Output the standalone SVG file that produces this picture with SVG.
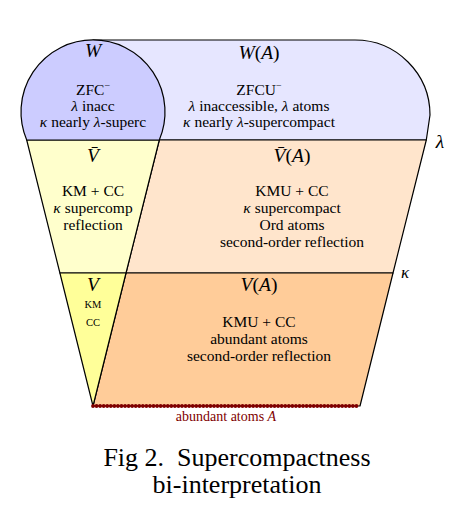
<svg xmlns="http://www.w3.org/2000/svg" width="474" height="526" viewBox="0 0 474 526">
<style>
.r{stroke:#000;stroke-width:1.2;stroke-linejoin:round}
.t{font-family:"Liberation Serif",serif;font-size:15.5px;text-anchor:middle;fill:#000}
.h{font-family:"Liberation Serif",serif;font-size:19.5px;text-anchor:middle;fill:#000}
.i{font-style:italic}
.sc{font-family:"Liberation Serif",serif;font-size:10.5px;text-anchor:middle;fill:#000}
.cap{font-family:"Liberation Serif",serif;font-size:26px;text-anchor:middle;fill:#000}
.lab{font-family:"Liberation Serif",serif;font-size:14px;text-anchor:middle;fill:#800000}
</style>
<rect width="474" height="526" fill="#fff"/>
<g id="WA">
<path class="r" d="M93,40 H355 A75,75 0 0 1 430,115 L426.3,140 H93 Z" fill="#e6e6ff"/>
<text class="h" x="259" y="59"><tspan class="i">W</tspan>(<tspan class="i">A</tspan>)</text>
<text class="t" x="259" y="95">ZFCU<tspan dy="-6" font-size="10">−</tspan></text>
<text class="t" x="259" y="111"><tspan class="i">λ</tspan> inaccessible, <tspan class="i">λ</tspan> atoms</text>
<text class="t" x="259" y="127"><tspan class="i">κ</tspan> nearly <tspan class="i">λ</tspan>-supercompact</text>
</g>
<g id="VbarA">
<polygon class="r" points="159.3,140 426.3,140 393,273 126,273" fill="#ffe5cc"/>
<text class="h" x="292" y="162"><tspan class="i">V̄</tspan>(<tspan class="i">A</tspan>)</text>
<text class="t" x="292" y="196">KMU + CC</text>
<text class="t" x="292" y="213"><tspan class="i">κ</tspan> supercompact</text>
<text class="t" x="292" y="230">Ord atoms</text>
<text class="t" x="292" y="247">second-order reflection</text>
</g>
<g id="VA">
<polygon class="r" points="126,273 393,273 360,406 93,406" fill="#ffcc99"/>
<text class="h" x="259" y="291"><tspan class="i">V</tspan>(<tspan class="i">A</tspan>)</text>
<text class="t" x="259" y="327">KMU + CC</text>
<text class="t" x="259" y="344">abundant atoms</text>
<text class="t" x="259" y="361">second-order reflection</text>
</g>
<g id="Vbar">
<polygon class="r" points="26.7,140 159.3,140 126,273 59.9,273" fill="#ffffcc"/>
<text class="h i" x="93" y="162">V̄</text>
<text class="t" x="93" y="196">KM + CC</text>
<text class="t" x="93" y="213"><tspan class="i">κ</tspan> supercomp</text>
<text class="t" x="93" y="230">reflection</text>
</g>
<g id="V">
<polygon class="r" points="59.9,273 126,273 93,406" fill="#ffff99"/>
<text class="h i" x="93" y="291">V</text>
<text class="sc" x="93" y="308">KM</text>
<text class="sc" x="93" y="326">CC</text>
</g>
<g id="W">
<path class="r" d="M26.7,140 A72,72 0 1 1 159.3,140 Z" fill="#ccccff"/>
<text class="h i" x="93" y="57">W</text>
<text class="t" x="93" y="95">ZFC<tspan dy="-6" font-size="10">−</tspan></text>
<text class="t" x="93" y="111"><tspan class="i">λ</tspan> inacc</text>
<text class="t" x="93" y="127"><tspan class="i">κ</tspan> nearly <tspan class="i">λ</tspan>-superc</text>
</g>
<g id="connectors">
<line x1="93" y1="406" x2="360" y2="406" stroke="#800000" stroke-width="3.8" stroke-linecap="round" stroke-dasharray="0 3.56"/>
</g>
<g id="labels">
<text class="h i" x="440" y="148">λ</text>
<text class="h i" x="405" y="278" style="font-size:17px">κ</text>
<text class="lab" x="226" y="421">abundant atoms <tspan class="i">A</tspan></text>
</g>
<g id="caption">
<text class="cap" x="237" y="466">Fig 2.&#160; Supercompactness</text>
<text class="cap" x="237" y="493">bi-interpretation</text>
</g>
</svg>
